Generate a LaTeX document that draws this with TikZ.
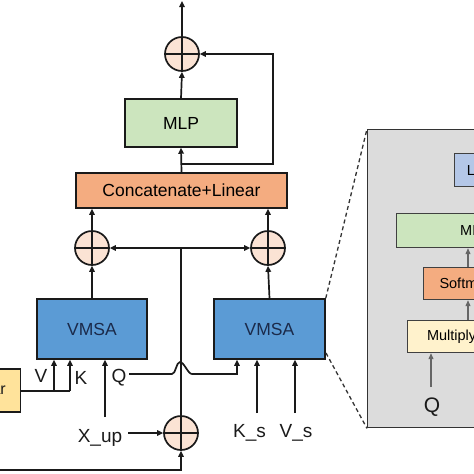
\documentclass[tikz,border=0pt]{standalone}
\usepackage{fontspec}
\setmainfont{Liberation Sans}
\usetikzlibrary{arrows.meta}
\definecolor{plusfill}{HTML}{FBE3D4}
\definecolor{mlpgreen}{HTML}{CCE5BE}
\definecolor{catorange}{HTML}{F4AC80}
\definecolor{vmsablue}{HTML}{5B9BD5}
\definecolor{encyellow}{HTML}{FFE39B}
\definecolor{panelgray}{HTML}{DCDCDC}
\definecolor{linblue}{HTML}{B4C7E7}
\definecolor{mulyellow}{HTML}{FFF2CC}
\definecolor{linecol}{HTML}{1A1A1A}
\definecolor{vmsatext}{HTML}{1B2A4A}
\tikzset{
  box/.style={draw=linecol, line width=1.5pt, inner sep=0pt, font=\fontsize{17.5}{20}\selectfont},
  pbox/.style={draw=black!75, line width=1.2pt, inner sep=0pt, font=\fontsize{14.5}{16}\selectfont},
  plus/.style={circle, draw=linecol, line width=1.7pt, fill=plusfill, minimum size=34pt, inner sep=0pt,
    path picture={\draw[line width=1.6pt, linecol] (path picture bounding box.north) -- (path picture bounding box.south)
      (path picture bounding box.east) -- (path picture bounding box.west);}},
  arr/.style={-{Triangle[length=6pt,width=5.5pt]}, line width=1.7pt, draw=linecol},
  ln/.style={line width=1.7pt, draw=linecol},
  parr/.style={-{Triangle[length=6pt,width=5pt]}, line width=1.1pt, draw=black!60},
  lbl/.style={font=\fontsize{19}{22}\selectfont, inner sep=0pt, anchor=base, text=linecol},
  dashline/.style={dashed, dash pattern=on 4pt off 3pt, line width=1.3pt, draw=black!80}
}
\begin{document}
\begin{tikzpicture}[x=1pt, y=-1pt]
\useasboundingbox (0,0) rectangle (474,474);
\clip (0,0) rectangle (474,474);
% main column
\node[plus] (plusT) at (182,54) {};
\node[box, fill=mlpgreen, minimum width=112pt, minimum height=48pt] (mlp) at (181,123) {MLP};
\node[box, fill=catorange, minimum width=211pt, minimum height=35pt] (cat) at (181.5,190.5) {Concatenate+Linear};
\node[plus] (plusL) at (92,248) {};
\node[plus] (plusR) at (268,248) {};
\node[box, fill=vmsablue, text=vmsatext, minimum width=110pt, minimum height=60pt] (vmsaL) at (92,329) {VMSA};
\node[box, fill=vmsablue, text=vmsatext, minimum width=111pt, minimum height=60pt] (vmsaR) at (269.5,329) {VMSA};
\node[plus] (plusB) at (181,433) {};
\node[box, fill=encyellow, minimum width=60pt, minimum height=43pt, anchor=north east] (enc) at (21,368) {};
\node[lbl, font=\fontsize{16}{18}\selectfont, anchor=base east] (enctxt) at (6,394) {Linear};
\coordinate (top) at (182,1);
\draw[arr] (plusT.north) -- (top);
\draw[arr] (mlp.north) -- (plusT.south);
\draw[arr] (cat.north) -- (mlp.south);
\coordinate (fbA) at (182,164);
\coordinate (fbB) at (273,164);
\coordinate (fbC) at (273,54);
\draw[arr] (fbA) -- (fbB) -- (fbC) -- (plusT.east);
\draw[arr] (plusL.north) -- (plusL.north |- cat.south);
\draw[arr] (plusR.north) -- (plusR.north |- cat.south);
\draw[arr] (vmsaL.north) -- (plusL.south);
\draw[arr] (vmsaR.north) -- (plusR.south);
\coordinate (mid) at (181,248);
\draw[ln] (plusB.north) -- (mid);
\draw[arr] (mid) -- (plusL.east);
\draw[arr] (mid) -- (plusR.west);
\coordinate (bl) at (0,470);
\coordinate (bm) at (181,470);
\draw[arr] (bl) -- (bm) -- (plusB.south);
\node[lbl] (xup) at (100,442) {X\_up};
\draw[arr] (xup.east |- plusB) ++(6,0) coordinate (xs) (xs) -- (plusB.west);
% V, K from encoder
\node[lbl] (vlab) at (41,382) {V};
\node[lbl] (klab) at (81,384) {K};
\coordinate (kv) at (54,391);
\coordinate (kk) at (70,391);
\draw[ln] (enc.east |- kv) -- (kk);
\draw[arr] (kv) -- (kv |- vmsaL.south);
\draw[arr] (kk) -- (kk |- vmsaL.south);
% Q
\node[lbl] (qlab) at (119,382) {Q};
\coordinate (qin) at (105,417);
\draw[arr] (qin) -- (qin |- vmsaL.south);
\coordinate (q0) at (129,374);
\coordinate (q1) at (172,374);
\coordinate (q2) at (192,374);
\coordinate (q3) at (237,374);
\draw[arr] (q0) -- (q1) .. controls (176,374) and (176,362) .. (180,362) .. controls (184,362) and (188,374) .. (q2) -- (q3) -- (q3 |- vmsaR.south);
% K_s V_s
\node[lbl] (kslab) at (249.5,437) {K\_s};
\node[lbl] (vslab) at (296,437) {V\_s};
\coordinate (ks) at (257,413);
\coordinate (vs) at (295,413);
\draw[arr] (ks) -- (ks |- vmsaR.south);
\draw[arr] (vs) -- (vs |- vmsaR.south);
% panel
\node[draw=black!80, line width=1.4pt, fill=panelgray, minimum width=200pt, minimum height=298pt, anchor=north west, inner sep=0pt] (panel) at (367,129) {};
\coordinate (dlo) at (326,353);
\draw[dashline] (vmsaR.north east) -- (panel.north west);
\draw[dashline] (dlo) -- (panel.south west);
\node[pbox, fill=linblue, minimum width=65pt, minimum height=33pt, anchor=north west] (plin) at (454,153) {Linear};
\node[pbox, fill=mlpgreen, minimum width=157pt, minimum height=34pt, anchor=north west] (pmlp) at (396,213) {MLP};
\node[pbox, fill=catorange, minimum width=85pt, minimum height=32pt, anchor=north west] (psoft) at (423,267) {Softmax};
\node[pbox, fill=mulyellow, minimum width=88pt, minimum height=32pt, anchor=north west] (pmul) at (407,320) {Multiply};
\coordinate (pa) at (468,320);
\coordinate (pb) at (468,267);
\draw[parr] (pa) -- (pa |- psoft.south);
\draw[parr] (pb) -- (pb |- pmlp.south);
\node[lbl, font=\fontsize{21}{24}\selectfont] (pq) at (432,412) {Q};
\coordinate (pqa) at (431,387);
\draw[parr] (pqa) -- (pqa |- pmul.south);
\end{tikzpicture}
\end{document}
